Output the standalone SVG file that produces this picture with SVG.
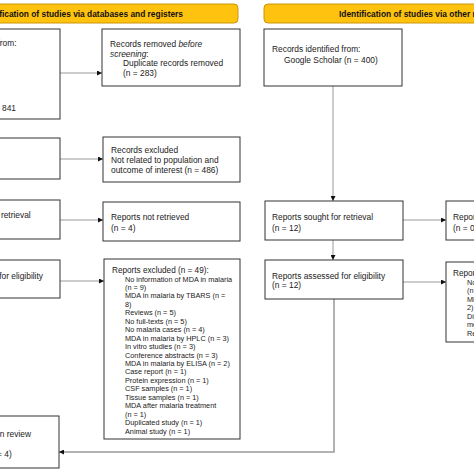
<svg xmlns="http://www.w3.org/2000/svg" width="474" height="474" viewBox="0 0 474 474">
<defs>
<marker id="ah" viewBox="0 0 6 6" refX="6" refY="3" markerWidth="5" markerHeight="5" orient="auto" markerUnits="userSpaceOnUse">
<path d="M0,0 L6,3 L0,6 z" fill="#111"/>
</marker>
<style>
.box{fill:#fff;stroke:#333;stroke-width:1}
.hdr{fill:#FFC20E;stroke:#C9960C;stroke-width:1}
.ht{font-family:"Liberation Sans",Arial,sans-serif;font-weight:bold;font-size:8.4px;fill:#111}
.t{font-family:"Liberation Sans",Arial,sans-serif;font-size:8.4px;fill:#222}
.s{font-family:"Liberation Sans",Arial,sans-serif;font-size:7.3px;fill:#222}
.h8{font-family:"Liberation Sans",Arial,sans-serif;font-size:8.2px;fill:#222}
.conn{fill:none;stroke:#999;stroke-width:1}
</style>
</defs>
<rect width="474" height="474" fill="#fff"/>

<g id="header-left">
<rect class="hdr" x="-10" y="4" width="248" height="19" rx="4"/>
<text class="ht" x="183" y="17" text-anchor="end">Identification of studies via databases and registers</text>
</g>
<g id="header-right">
<rect class="hdr" x="264" y="4" width="230" height="19" rx="4"/>
<text class="ht" x="339" y="17">Identification of studies via other methods</text>
</g>

<g id="connectors">
<line class="conn" x1="60" y1="73" x2="102" y2="73" marker-end="url(#ah)"/>
<line class="conn" x1="60" y1="159" x2="103" y2="159" marker-end="url(#ah)"/>
<line class="conn" x1="60" y1="220" x2="103" y2="220" marker-end="url(#ah)"/>
<line class="conn" x1="60" y1="281" x2="104" y2="281" marker-end="url(#ah)"/>
<line class="conn" x1="333" y1="86" x2="333" y2="201" marker-end="url(#ah)"/>
<line class="conn" x1="403" y1="220" x2="446" y2="220" marker-end="url(#ah)"/>
<line class="conn" x1="333" y1="240" x2="333" y2="260" marker-end="url(#ah)"/>
<line class="conn" x1="403" y1="282" x2="446" y2="282" marker-end="url(#ah)"/>
<polyline class="conn" style="stroke-width:1.5" points="334,299 334,452 59,452" marker-end="url(#ah)"/>
</g>

<g id="records-identified-db">
<rect class="box" x="-10" y="29" width="70" height="90"/>
<text class="t" x="16.5" y="46" text-anchor="end">Records identified from:</text>
<text class="t" x="16" y="111" text-anchor="end">n = 841</text>
</g>
<g id="records-removed">
<rect class="box" x="102" y="29" width="138" height="57"/>
<text class="t" x="110" y="47">Records removed <tspan font-style="italic">before</tspan></text>
<text class="t" x="110" y="57" font-style="italic">screening<tspan font-style="normal">:</tspan></text>
<text class="t" x="123" y="66">Duplicate records removed</text>
<text class="t" x="123" y="75.5">(n = 283)</text>
</g>

<g id="records-screened">
<rect class="box" x="-10" y="138" width="70" height="41"/>
</g>
<g id="records-excluded">
<rect class="box" x="103" y="137" width="137" height="45"/>
<text class="t" x="111" y="153">Records excluded</text>
<text class="t" x="111" y="163">Not related to population and</text>
<text class="t" x="111" y="173">outcome of interest (n = 486)</text>
</g>

<g id="reports-sought-db">
<rect class="box" x="-10" y="200" width="70" height="39"/>
<text class="t" x="30.7" y="218" text-anchor="end">Reports sought for retrieval</text>
</g>
<g id="reports-not-retrieved-db">
<rect class="box" x="103" y="202" width="137" height="39"/>
<text class="t" x="111" y="220">Reports not retrieved</text>
<text class="t" x="111" y="231">(n = 4)</text>
</g>

<g id="reports-assessed-db">
<rect class="box" x="-10" y="260" width="70" height="38"/>
<text class="t" x="43" y="278.5" text-anchor="end">Reports assessed for eligibility</text>
</g>
<g id="reports-excluded-db">
<rect class="box" x="104" y="259" width="136" height="180"/>
<text class="h8" x="112" y="273">Reports excluded (n = 49):</text>
<text class="s" x="125" y="281.5">No information of MDA in malaria</text>
<text class="s" x="125" y="290">(n = 9)</text>
<text class="s" x="125" y="298.4">MDA in malaria by TBARS (n =</text>
<text class="s" x="125" y="306.8">8)</text>
<text class="s" x="125" y="315.3">Reviews (n = 5)</text>
<text class="s" x="125" y="323.7">No full-texts (n = 5)</text>
<text class="s" x="125" y="332.2">No malaria cases (n = 4)</text>
<text class="s" x="125" y="340.6">MDA in malaria by HPLC (n = 3)</text>
<text class="s" x="125" y="349">In vitro studies (n = 3)</text>
<text class="s" x="125" y="357.5">Conference abstracts (n = 3)</text>
<text class="s" x="125" y="366">MDA in malaria by ELISA (n = 2)</text>
<text class="s" x="125" y="374.4">Case report (n = 1)</text>
<text class="s" x="125" y="382.8">Protein expression (n = 1)</text>
<text class="s" x="125" y="391.3">CSF samples (n = 1)</text>
<text class="s" x="125" y="399.7">Tissue samples (n = 1)</text>
<text class="s" x="125" y="408.2">MDA after malaria treatment</text>
<text class="s" x="125" y="416.6">(n = 1)</text>
<text class="s" x="125" y="425">Duplicated study (n = 1)</text>
<text class="s" x="125" y="433.5">Animal study (n = 1)</text>
</g>

<g id="studies-included">
<rect class="box" x="-10" y="416" width="69" height="52"/>
<text class="t" x="31" y="437" text-anchor="end">Studies included in review</text>
<text class="t" x="11.7" y="457" text-anchor="end">(n = 4)</text>
</g>

<g id="records-identified-other">
<rect class="box" x="264" y="29" width="138" height="57"/>
<text class="t" x="272" y="51.5">Records identified from:</text>
<text class="t" x="284" y="62.5">Google Scholar (n = 400)</text>
</g>
<g id="reports-sought-other">
<rect class="box" x="265" y="201" width="138" height="39"/>
<text class="t" x="272" y="219.5">Reports sought for retrieval</text>
<text class="t" x="272" y="230.5">(n = 12)</text>
</g>
<g id="reports-not-retrieved-other">
<rect class="box" x="446" y="201" width="60" height="39"/>
<text class="t" x="453" y="219.5">Reports not retrieved</text>
<text class="t" x="453" y="230.5">(n = 0)</text>
</g>
<g id="reports-assessed-other">
<rect class="box" x="265" y="260" width="138" height="39"/>
<text class="t" x="272" y="279">Reports assessed for eligibility</text>
<text class="t" x="272" y="288">(n = 12)</text>
</g>
<g id="reports-excluded-other">
<rect class="box" x="446" y="262" width="60" height="80"/>
<text class="h8" x="453" y="275.5">Reports excluded (n = 8):</text>
<text class="s" x="467" y="284.5">No information of MDA in malaria</text>
<text class="s" x="467" y="293">(n = 3)</text>
<text class="s" x="467" y="301.5">MDA in malaria by TBARS (n =</text>
<text class="s" x="467" y="310">2)</text>
<text class="s" x="467" y="318.5">Different outcome</text>
<text class="s" x="467" y="327">measured (n = 2)</text>
<text class="s" x="467" y="335.5">Reviews (n = 1)</text>
</g>
</svg>
